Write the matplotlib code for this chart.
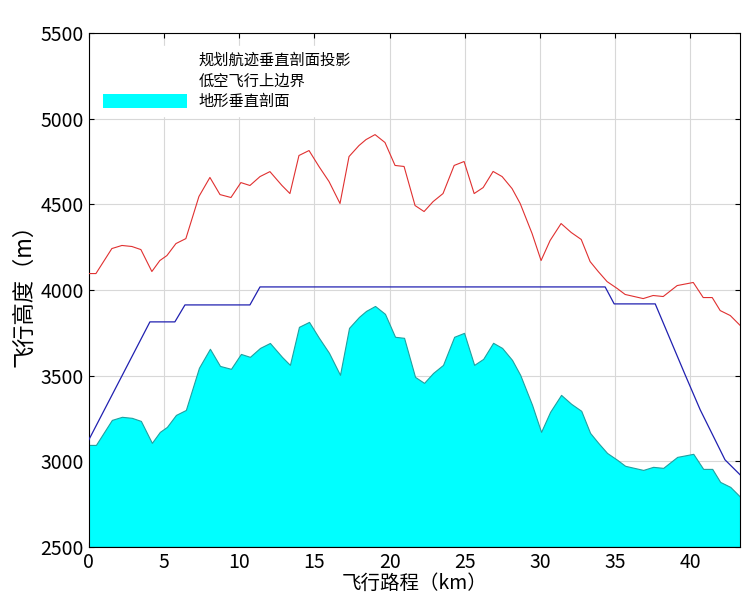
import matplotlib.pyplot as plt
from matplotlib.lines import Line2D
from matplotlib.patches import Patch

plt.rcParams['font.family'] = ['Noto Sans CJK SC', 'DejaVu Sans']

# terrain vertical profile (km, m)
dist = [0.00, 0.47, 1.53, 2.20, 2.86, 3.46, 4.19, 4.72, 5.19, 5.79, 6.45, 7.32, 8.05, 8.72,
        9.45, 10.11, 10.71, 11.38, 12.04, 12.84, 13.37, 13.97, 14.64, 15.30, 15.97, 16.70,
        17.30, 17.96, 18.43, 19.03, 19.69, 20.36, 20.96, 21.69, 22.29, 22.89, 23.55, 24.29,
        24.95, 25.62, 26.22, 26.88, 27.48, 28.14, 28.68, 29.47, 30.07, 30.67, 31.40, 32.07,
        32.74, 33.33, 33.87, 34.46, 35.13, 35.66, 36.86, 37.52, 38.19, 39.12, 40.19, 40.85,
        41.45, 41.98, 42.65, 43.31]
terrain = [3095, 3095, 3241, 3259, 3253, 3235, 3107, 3171, 3200, 3270, 3299, 3545, 3656, 3556,
           3539, 3626, 3609, 3661, 3690, 3609, 3562, 3784, 3813, 3720, 3632, 3504,
           3778, 3842, 3877, 3906, 3860, 3726, 3720, 3492, 3457, 3515, 3562, 3726,
           3749, 3562, 3597, 3691, 3661, 3591, 3504, 3329, 3171, 3288, 3387, 3335,
           3294, 3165, 3107, 3048, 3008, 2973, 2949, 2967, 2961, 3025, 3043, 2955,
           2955, 2879, 2850, 2792]
upper_offset = 1000  # low-altitude upper boundary above terrain

# planned track projection
track_x = [0.0, 4.06, 5.72, 6.39, 10.71, 11.38, 34.33, 34.93, 37.66, 39.65, 40.65, 42.3, 43.31]
track_y = [3125, 3813, 3813, 3912, 3912, 4017, 4017, 3918, 3918, 3504, 3300, 3008, 2920]

fig = plt.figure(figsize=(7.53, 5.97), dpi=100)
ax = fig.add_axes([0.118, 0.084, 0.865, 0.861])
ax.set_axisbelow(True)

ax.fill_between(dist, 2500, terrain, color='#00ffff', edgecolor='#20a0a0', linewidth=0.8, zorder=2)
ax.plot(dist, [t + upper_offset for t in terrain], color='#e03030', linewidth=0.8, zorder=3)
ax.plot(track_x, track_y, color='#2020b0', linewidth=0.9, zorder=3)

ax.set_xlim(0, 43.31)
ax.set_ylim(2500, 5500)
ax.set_xticks(range(0, 45, 5))
ax.set_yticks(range(2500, 5501, 500))
ax.grid(True, color='#d8d8d8', linewidth=0.8, zorder=0)
ax.tick_params(direction='in', labelsize=14, top=True, right=True)
ax.set_xlabel('飞行路程（km）', fontsize=14, labelpad=0)
ax.set_ylabel('飞行高度（m）', fontsize=16, labelpad=4)

handles = [Line2D([], [], color='none'), Line2D([], [], color='none'),
           Patch(facecolor='#00ffff', edgecolor='none')]
labels = ['规划航迹垂直剖面投影', '低空飞行上边界', '地形垂直剖面']
leg = ax.legend(handles, labels, loc='upper left', bbox_to_anchor=(0.0, 0.99), fontsize=11,
                frameon=True, fancybox=False, edgecolor='white', framealpha=1,
                handlelength=5.5, handleheight=1.0, labelspacing=0.25)
leg.set_zorder(5)

fig.savefig('out.png', dpi=100)
